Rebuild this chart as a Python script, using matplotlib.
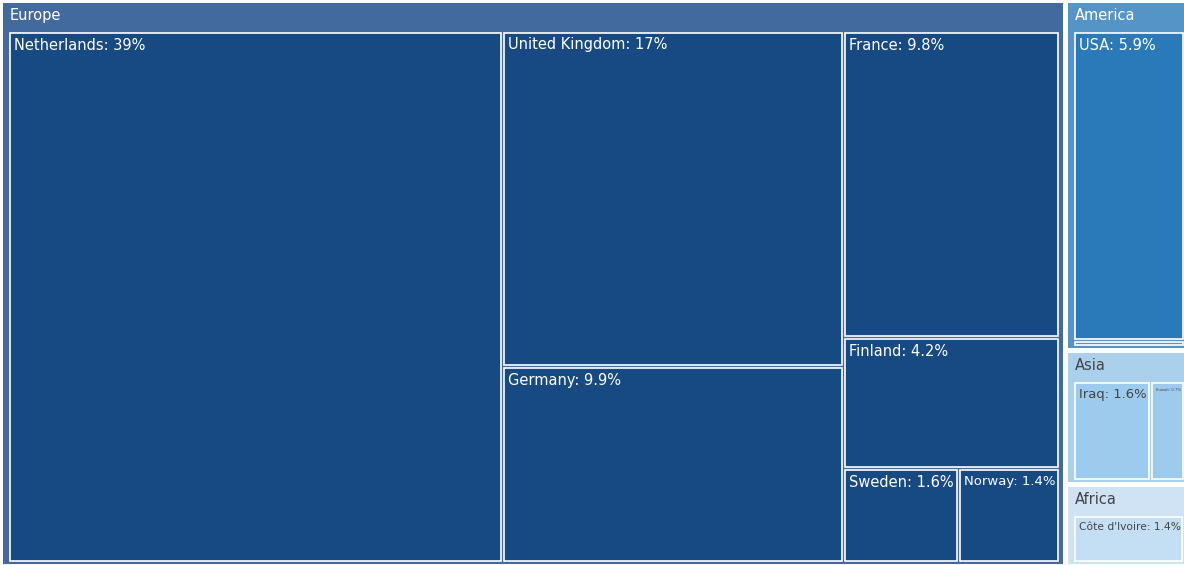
import matplotlib
matplotlib.use('Agg')
import matplotlib.pyplot as plt
from matplotlib.patches import Rectangle

# Datos del treemap (porcentaje del total)
regions = ['Europe', 'America', 'Asia', 'Africa']
europe_countries = ['Netherlands', 'United Kingdom', 'Germany', 'France', 'Finland', 'Sweden', 'Norway']
europe_values = [39, 17, 9.9, 9.8, 4.2, 1.6, 1.4]
america_countries = ['USA', 'Other']
america_values = [5.9, 0.1]
asia_countries = ['Iraq', 'Kuwait']
asia_values = [1.6, 0.7]
africa_countries = ["Côte d'Ivoire"]
africa_values = [1.4]

countries = [europe_countries, america_countries, asia_countries, africa_countries]
values = [europe_values, america_values, asia_values, africa_values]

header_colors = ['#426a9e', '#5494c7', '#abd0ec', '#cfe3f4']
leaf_colors = ['#174983', '#2a7ab9', '#9dcbed', '#c4def3']
text_colors = ['white', 'white', '#444444', '#444444']

W, H = 1184, 565


def worst(row, side):
    s = sum(row)
    return max(max(side * side * r / (s * s), s * s / (side * side * r)) for r in row)


def squarify(vals, x, y, w, h):
    total = sum(vals)
    areas = [v * w * h / total for v in vals]
    rects = []
    while areas:
        side = min(w, h)
        row = [areas.pop(0)]
        while areas and worst(row + [areas[0]], side) <= worst(row, side):
            row.append(areas.pop(0))
        s = sum(row)
        if w >= h:
            cw = s / h
            yy = y
            for a in row:
                rects.append((x, yy, cw, a / cw))
                yy += a / cw
            x += cw
            w -= cw
        else:
            rh = s / w
            xx = x
            for a in row:
                rects.append((xx, y, a / rh, rh))
                xx += a / rh
            y += rh
            h -= rh
    return rects


fig = plt.figure(figsize=(W / 100, H / 100), dpi=100)
ax = fig.add_axes([0, 0, 1, 1])
ax.set_xlim(0, W)
ax.set_ylim(H, 0)
ax.axis('off')
fig.canvas.draw()
renderer = fig.canvas.get_renderer()


def put_label(txt, x, y, w, color, size):
    t = ax.text(x + 4, y + 5, txt, color=color, fontsize=size, va='top', ha='left')
    bb = t.get_window_extent(renderer)
    if bb.width > w - 6:
        t.set_fontsize(size * (w - 6) / bb.width)


region_totals = [sum(v) for v in values]
top_rects = squarify(region_totals, 0.5, 0.5, 1190, 566)
gap = 2.5
for i, (x, y, w, h) in enumerate(top_rects):
    x, y, w, h = x + gap, y + gap, w - 2 * gap, h - 2 * gap
    ax.add_patch(Rectangle((x, y), w, h, facecolor=header_colors[i], edgecolor='none'))
    ax.text(x + 7, y + 5, regions[i], color=text_colors[i], fontsize=10.5, va='top', ha='left')
    # zona de los hijos
    cx, cy, cw, ch = x + 5, y + 28, w - 9, h - 30
    kids = squarify(values[i], cx, cy, cw, ch)
    for j, (kx, ky, kw, kh) in enumerate(kids):
        kx, ky, kw, kh = kx + 1.5, ky + 1.5, kw - 3, kh - 3
        fc = leaf_colors[i] if kh > 10 else header_colors[i]
        ax.add_patch(Rectangle((kx, ky), kw, kh, facecolor=fc, edgecolor='white', linewidth=1.2))
        if kh > 15:
            put_label(f'{countries[i][j]}: {values[i][j]:g}%', kx, ky, kw, text_colors[i], 10.5)

fig.savefig('out.png', dpi=100)
